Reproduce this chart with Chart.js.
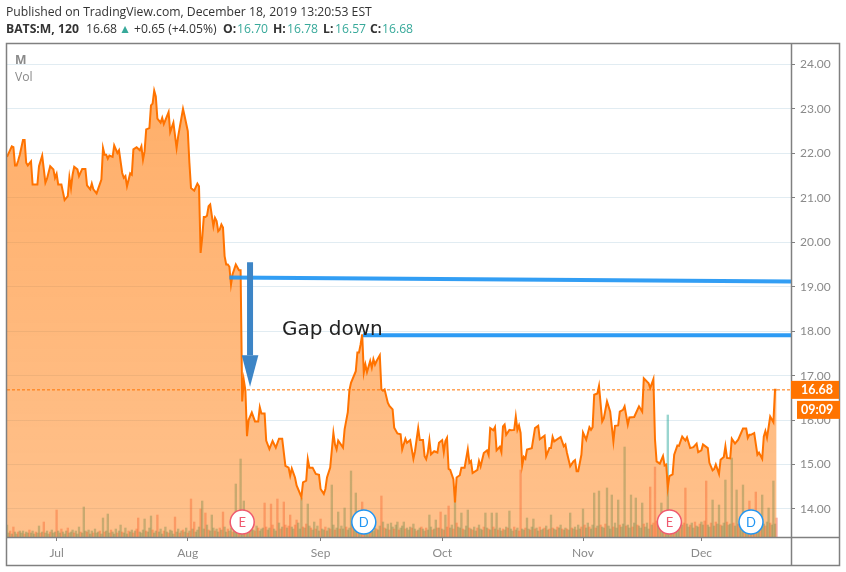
<!DOCTYPE html>
<html><head><meta charset="utf-8">
<script src="https://cdn.jsdelivr.net/npm/chart.js@4/dist/chart.umd.js"></script>
<style>
html,body{margin:0;padding:0;background:#fff;width:846px;height:572px;overflow:hidden}
#wrap{position:relative;width:846px;height:572px}
canvas{position:absolute;left:0;top:0}
.t{position:absolute;white-space:nowrap;font-family:'Open Sans',sans-serif;font-size:12.2px;line-height:14px;color:#333}
.b{font-weight:700}.v{color:#37a99a}
</style></head><body>
<div id="wrap">
<canvas id="c" width="846" height="572" style="width:846px;height:572px"></canvas>
<div class="t" style="left:6px;top:5px">Published on TradingView.com, December 18, 2019 13:20:53 EST</div>
<div class="t b" style="left:6px;top:22px">BATS:M, 120</div>
<div class="t" style="left:86px;top:22px">16.68</div>
<div class="t v" style="left:119px;top:22px">▲</div>
<div class="t" style="left:134px;top:22px">+0.65 (+4.05%)</div>
<div class="t b" style="left:223px;top:22px">O:</div><div class="t v" style="left:237px;top:22px">16.70</div>
<div class="t b" style="left:273px;top:22px">H:</div><div class="t v" style="left:287px;top:22px">16.78</div>
<div class="t b" style="left:323px;top:22px">L:</div><div class="t v" style="left:335px;top:22px">16.57</div>
<div class="t b" style="left:370px;top:22px">C:</div><div class="t v" style="left:382px;top:22px">16.68</div>
<div class="t b" style="left:15px;top:53px;color:#8a8a8a">M</div>
<div class="t" style="left:15px;top:70px;color:#8a8a8a">Vol</div>
<div class="t" style="left:282px;top:316px;font-family:'DejaVu Sans';font-size:20px;line-height:24px;color:#222">Gap down</div>
</div>
<script>
const priceBars=[0,3,4,5,6,7,8,10,11,12,13,15,16,19,20,22,24,25,27,29,30,31,32,34,36,38,39,40,41,42,44,45,47,49,50,52,53,54,56,59,60,61,62,63,64,66,67,69,70,72,73,74,75,77,78,79,81,83,84,85,86,87,89,90,91,92,93,94,96,97,98,101,102,104,106,107,110,111,113,114,115,117,119,120,121,122,123,124,125,126,127,129,130,131,132,133,134,135,136,137,138,139,140,141,143,145,146,147,148,149,150,151,153,155,157,158,159,161,162,164,166,168,170,172,174,176,177,178,180,181,184,185,187,188,189,191,193,195,196,198,199,200,202,204,205,206,207,210,211,213,214,215,218,219,220,221,222,223,224,225,227,228,229,230,231,233,234,235,236,238,239,241,242,244,246,247,249,250,252,254,255,257,258,260,261,262,263,264,265,267,269,270,272,273,274,275,276,277,279,280,281,283,284,286,288,289,290,291,294,295,296,298,300,301,302,304,305,306,308,309,310,311,312,314,315,317,318,319,320,321,322,323,324,325,328,330,332,333,336,337,339,340,341,342,346,348,349,350,352,354,355,356,357,359,360,362,364,365,366,367,369,370,372,373,375,377,379,380,382,383,385,386,388,389,392,395,397,398,401,402,404,405,406,408,410,411,412,413,414,416,417,419,420,422,424,425,427,429,431,432,434,435,438,439,441,442,443,445,446,448,449,450,452,453,455,457,460,462,463,464,465,467,469,470,472,473,474,475,477,479,480,481];
const prices=[21.92,22.16,22.14,21.73,21.73,21.84,21.97,22.3,22.3,21.79,21.73,21.82,21.3,21.3,21.71,21.95,21.34,21.43,21.71,21.64,21.45,21.54,21.3,21.3,20.95,21.04,21.46,21.22,21.52,21.7,21.64,21.49,21.65,21.65,21.28,21.19,21.32,21.19,21.1,21.41,22.12,21.97,21.97,21.88,21.95,21.92,22.18,22.01,22.07,21.56,21.45,21.49,21.26,21.55,21.52,22.09,22.14,22.07,22.16,21.86,22.05,22.54,22.57,23.08,23.12,23.41,23.28,22.78,22.69,22.8,22.66,22.93,22.48,22.69,22.12,22.39,23.0,22.84,22.5,21.79,21.22,21.16,21.32,21.26,19.76,20.1,20.57,20.57,20.6,20.81,20.85,20.36,20.55,20.48,20.25,20.29,20.4,20.33,19.69,19.5,19.5,19.45,19.05,19.28,19.5,19.37,19.37,16.42,16.9,16.67,15.64,16.0,16.17,15.97,15.97,16.29,16.15,16.15,15.54,15.35,15.53,15.38,15.58,15.58,14.97,14.93,14.75,14.91,14.71,14.53,14.27,14.6,14.64,15.12,14.93,14.93,14.79,14.77,14.45,14.34,14.45,14.71,14.93,15.71,15.45,15.34,15.54,15.38,15.79,16.18,16.67,16.84,17.1,17.52,17.52,17.7,17.93,17.07,17.25,17.08,17.33,17.18,17.37,17.25,17.33,17.46,16.69,16.66,16.69,16.39,16.32,16.24,15.83,15.7,15.68,15.34,15.58,15.49,15.55,15.13,15.3,15.82,15.55,15.55,15.19,15.12,15.27,15.55,15.23,15.3,15.27,15.49,15.55,15.28,15.53,15.6,14.9,14.88,14.67,14.15,14.71,14.76,14.93,14.93,15.34,15.04,15.08,14.81,14.88,15.08,14.96,15.26,15.32,15.22,15.82,15.77,15.84,15.32,15.4,15.28,15.86,15.9,15.67,15.78,15.77,15.78,16.08,15.78,15.88,15.71,14.98,15.17,15.13,15.34,15.37,15.82,15.87,15.57,15.65,15.19,15.37,15.37,15.62,15.52,15.62,15.41,15.45,15.26,14.96,15.07,15.1,14.85,14.85,15.22,15.72,15.56,15.84,15.78,15.84,16.57,16.6,16.77,15.97,16.04,16.42,16.19,15.52,15.87,15.88,16.19,16.23,16.31,15.9,16.06,16.07,16.31,16.19,16.94,16.83,16.72,16.92,15.56,15.07,15.02,15.19,14.98,15.0,14.48,14.74,14.78,15.22,15.43,15.42,15.63,15.54,15.61,15.37,15.39,15.47,15.28,15.32,15.45,15.37,15.04,14.87,14.9,15.0,14.79,15.11,15.17,15.41,15.15,15.14,15.58,15.47,15.56,15.81,15.81,15.6,15.67,15.67,15.71,15.22,15.27,15.13,15.63,15.75,15.6,16.08,15.95,16.68,16.68];
// volume per bar (one unit = 50k shares); negative = down bar
const volumes=[12,4,-6,3,-10,5,3,-5,6,4,
6,-3,5,4,-7,4,6,3,-5,4,
11,-4,5,-15,4,6,3,-5,7,4,
5,-27,6,4,-8,5,3,6,-9,4,
5,7,-4,6,3,10,-5,4,30,6,
-5,7,3,6,-4,8,4,5,-6,3,
19,-5,6,23,4,-7,5,3,8,-4,
6,12,-5,4,9,3,-6,5,7,-4,
6,-8,-19,5,4,7,18,-6,5,9,
21,-7,4,6,-22,5,8,3,-6,10,
5,-4,7,6,3,-20,5,8,-4,6,
-7,5,9,-4,6,-38,8,-15,5,7,
10,-28,36,8,-24,12,-7,6,22,9,
-6,8,5,-9,7,-25,10,5,-8,6,
9,-5,7,53,12,-6,78,8,36,-7,
10,6,-8,14,7,-6,11,-9,6,8,
9,-34,-10,7,9,-33,-12,8,6,-38,
14,-8,10,-35,-12,9,-11,-22,10,8,
-12,-17,14,8,39,-10,9,-13,33,11,
-9,7,15,-8,11,6,-18,8,7,-10,
6,9,-8,52,12,-7,9,25,-8,11,
8,29,-10,7,9,66,-12,10,44,-9,
14,10,-35,-13,11,9,8,-12,10,6,
9,-8,7,11,-41,15,-9,8,13,-7,
14,10,-8,12,15,-7,9,11,15,-8,
9,7,10,-9,13,8,-6,7,9,-10,
8,6,-9,7,22,10,-7,8,17,-9,
9,-25,8,-7,22,-10,-31,9,12,-8,
37,-14,10,9,24,-8,7,11,27,-9,
8,-7,10,6,-9,12,8,7,-10,24,
9,-8,7,24,-10,8,24,-7,9,6,
-8,7,10,-9,26,8,6,-10,7,9,
-6,-67,8,7,-9,19,8,-7,10,18,
-8,9,6,-10,7,8,-9,11,7,-8,
22,-9,8,7,-10,9,12,-8,7,9,
-8,7,24,-9,8,10,-7,12,8,-10,
28,-12,9,14,-10,8,12,44,-9,11,
46,-12,10,9,-13,49,11,8,42,-10,
14,9,37,-12,10,13,90,-11,12,9,
42,-10,14,39,-12,11,9,34,-13,10,
14,8,-50,12,-14,-70,-16,12,-10,34,
13,-12,10,122,16,-14,11,-13,12,9,
15,-10,12,-14,-49,13,10,-12,14,9,
-15,11,10,-13,15,12,-16,-56,12,10,
-14,37,11,-15,13,32,-12,11,14,57,
-15,12,13,79,-14,11,47,-13,12,16,
52,-15,12,14,-36,11,-13,12,-45,10,
14,-12,42,13,-11,15,29,-14,12,56,
13,-19];
const priceTicks=[14,15,16,17,18,19,20,21,22,23,24];
const monthBars=[31,113,196,272,360,434];
const monthLabels=['Jul','Aug','Sep','Oct','Nov','Dec'];
const lastPrice=16.68;
const lastPriceText='16.68';
const countdownText='09:09';
const eventBars=[147,223,414,465];
const eventLabels=['E','D','E','D'];
const eventColors=['#ef5a6f','#2196f3','#ef5a6f','#2196f3'];
const eventLevel=[15,15,15,15];
const trendBars1=[139,490];
const trendPrices1=[19.21,19.12];
const trendBars2=[222.5,490];
const trendPrices2=[17.91,17.91];
const shaftBars=[151.9,151.9];
const shaftPrices=[19.55,17.46];
const headBars=[146.7,157.1,151.9];
const headPrices=[17.46,17.46,16.75];
const BAR_MAX=490;
const pts=(xs,ys)=>xs.map((x,i)=>({x,y:ys[i]}));
const orange='#ff7300';
function areaGrad(ctx){
  const a=ctx.chart.chartArea; if(!a) return 'rgba(255,118,0,.5)';
  const g=ctx.chart.ctx.createLinearGradient(0,a.top,0,a.bottom);
  g.addColorStop(0,'rgba(255,118,0,.60)');
  g.addColorStop(1,'rgba(255,118,0,.45)');
  return g;
}
const overlay={id:'overlay',
  afterDatasetsDraw(chart){
    const c=chart.ctx,m=chart.getDatasetMeta(chart.data.datasets.findIndex(d=>d.label==='events'));
    c.save();c.textAlign='center';c.textBaseline='middle';c.font='13px Lato, sans-serif';
    m.data.forEach((p,i)=>{c.fillStyle=eventColors[i];c.fillText(eventLabels[i],p.x,p.y+0.5);});
    c.restore();
  },
  afterDraw(chart){
    const c=chart.ctx,a=chart.chartArea,y=chart.scales.y.getPixelForValue(lastPrice);
    c.save();
    c.strokeStyle='#808080';c.lineWidth=1.5;
    c.strokeRect(6.5,43.5,833,522);
    c.beginPath();c.moveTo(a.right+.5,a.top);c.lineTo(a.right+.5,565);
    c.moveTo(a.left,a.bottom+.5);c.lineTo(839,a.bottom+.5);c.stroke();
    c.fillStyle=orange;
    c.fillRect(a.right,y-9,48,18);
    c.fillRect(797,y+11,43,18);
    c.fillStyle='#fff';c.font='700 12.5px Lato, sans-serif';c.textBaseline='middle';c.textAlign='left';
    c.fillText(lastPriceText,801,y+.5);
    c.fillText(countdownText,801,y+20.5);
    c.restore();
  }};
new Chart(document.getElementById('c'),{
  data:{datasets:[
    {type:'line',label:'price',data:pts(priceBars,prices),borderColor:orange,borderWidth:2,pointRadius:0,tension:0,fill:'start',backgroundColor:areaGrad,yAxisID:'y',order:6,borderJoinStyle:'miter'},
    {type:'bar',label:'volume',data:volumes.map((v,i)=>({x:i,y:Math.abs(v)})),backgroundColor:volumes.map(v=>v<0?'rgba(239,83,80,.42)':'rgba(38,166,154,.47)'),barThickness:1.7,yAxisID:'v',order:7},
    {type:'line',label:'last',data:pts([0,BAR_MAX],[lastPrice,lastPrice]),borderColor:orange,borderWidth:1,borderDash:[3,2],pointRadius:0,yAxisID:'y',order:4},
    {type:'line',label:'trend1',data:pts(trendBars1,trendPrices1),borderColor:'rgba(33,150,243,.92)',borderWidth:4,pointRadius:0,yAxisID:'y',order:3},
    {type:'line',label:'trend2',data:pts(trendBars2,trendPrices2),borderColor:'rgba(33,150,243,.95)',borderWidth:4,pointRadius:0,yAxisID:'y',order:3},
    {type:'line',label:'shaft',data:pts(shaftBars,shaftPrices),borderColor:'#3d85c6',borderWidth:6,pointRadius:0,yAxisID:'y',order:2},
    {type:'line',label:'head',data:pts(headBars,headPrices),borderWidth:0,borderColor:'rgba(0,0,0,0)',backgroundColor:'#3d85c6',fill:'shape',pointRadius:0,yAxisID:'y',order:2},
    {type:'line',label:'events',data:pts(eventBars,eventLevel),showLine:false,pointStyle:'circle',pointRadius:12,pointBorderWidth:1.5,pointBackgroundColor:'#fff',pointBorderColor:eventColors,yAxisID:'v',order:1}
  ]},
  options:{responsive:false,animation:false,devicePixelRatio:1,events:[],
    layout:{autoPadding:false,padding:{left:7,top:44,right:7,bottom:7}},
    plugins:{legend:{display:false},tooltip:{enabled:false}},
    scales:{
      x:{type:'linear',min:0,max:BAR_MAX,offset:false,
        afterBuildTicks(s){s.ticks=monthBars.map(value=>({value}));},
        afterFit(s){s.height=28;},
        grid:{offset:false,drawOnChartArea:false,drawTicks:true,tickLength:4,tickColor:'#808080'},
        border:{display:false},
        ticks:{autoSkip:false,maxRotation:0,padding:5,color:'#8a8a8a',font:{family:'Lato, sans-serif',size:12},callback:v=>monthLabels[monthBars.indexOf(v)]}},
      y:{type:'linear',position:'right',min:13.37,max:24.461,
        afterBuildTicks(s){s.ticks=priceTicks.map(value=>({value}));},
        afterFit(s){s.width=48;},
        grid:{color:'#e1ecf2',lineWidth:1,drawTicks:true,tickLength:4,tickColor:'#808080'},
        border:{display:false},
        ticks:{autoSkip:false,padding:5,color:'#8a8a8a',font:{family:'Lato, sans-serif',size:12},callback:v=>Number(v).toFixed(2)}},
      v:{type:'linear',display:false,min:0,max:493}
    }},
  plugins:[overlay]
});
</script>
</body></html>
